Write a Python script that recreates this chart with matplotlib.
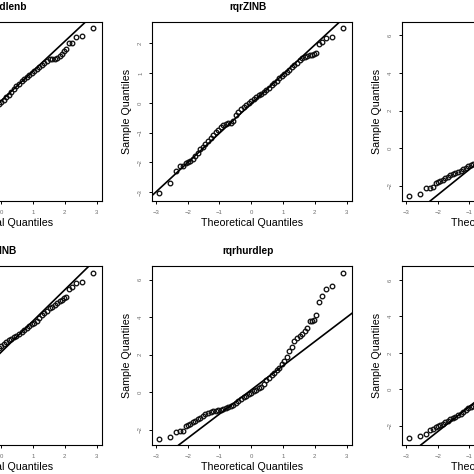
"""
Normal QQ plots of randomized quantile residuals (2 x 3 grid, cropped view).
"""

import matplotlib
matplotlib.use("Agg")
import matplotlib.pyplot as plt

# ---------------------------------------------------------
# Data
# ---------------------------------------------------------
theo = [-2.90, -2.54, -2.36, -2.23, -2.13, -2.05, -1.98, -1.91,
        -1.84, -1.76, -1.68, -1.60, -1.52, -1.44, -1.36, -1.28, -1.20, -1.12, -1.04, -0.96,
        -0.88, -0.80, -0.72, -0.64, -0.56, -0.48, -0.40, -0.32, -0.24, -0.16, -0.08,
        0.00, 0.08, 0.16, 0.24, 0.32, 0.40, 0.48, 0.56, 0.64, 0.72, 0.80, 0.88, 0.96,
        1.04, 1.12, 1.20, 1.28, 1.36, 1.44, 1.52, 1.60, 1.68, 1.76, 1.84,
        1.91, 1.98, 2.05, 2.13, 2.23, 2.36, 2.54, 2.90]

hurdlenb_top = [-2.95, -2.62, -2.40, -2.25, -2.15, -2.07, -2.00, -1.93,
                -1.86, -1.78, -1.70, -1.62, -1.54, -1.46, -1.37, -1.28, -1.19, -1.10, -1.01, -0.93,
                -0.85, -0.77, -0.69, -0.61, -0.53, -0.45, -0.37, -0.29, -0.21, -0.13, -0.05,
                0.02, 0.10, 0.19, 0.28, 0.36, 0.46, 0.56, 0.65, 0.74, 0.81, 0.88, 0.94, 1.00,
                1.07, 1.14, 1.21, 1.28, 1.35, 1.42, 1.48, 1.46, 1.48, 1.50, 1.58,
                1.66, 1.75, 1.82, 2.01, 2.01, 2.21, 2.26, 2.52]

zinb_top = [-3.04, -2.68, -2.28, -2.12, -2.11, -2.03, -1.99, -1.94,
            -1.88, -1.80, -1.68, -1.55, -1.47, -1.38, -1.27, -1.18, -1.07, -0.98, -0.90, -0.82,
            -0.76, -0.72, -0.69, -0.66, -0.60, -0.42, -0.32, -0.22, -0.14, -0.07, 0.01,
            0.07, 0.13, 0.19, 0.25, 0.31, 0.37, 0.44, 0.51, 0.59, 0.67, 0.75, 0.83, 0.90,
            0.97, 1.04, 1.12, 1.20, 1.28, 1.35, 1.45, 1.52, 1.55, 1.57, 1.60,
            1.62, 1.65, 1.69, 1.98, 2.05, 2.18, 2.20, 2.51]

zip_top = [-2.55, -2.43, -2.12, -2.10, -2.08, -1.85, -1.80, -1.74,
           -1.66, -1.59, -1.52, -1.44, -1.37, -1.31, -1.25, -1.19, -1.12, -1.04, -0.96, -0.88,
           -0.84, -0.80, -0.76, -0.71, -0.64, -0.55, -0.45, -0.35, -0.26, -0.17, -0.09,
           -0.02, 0.06, 0.14, 0.23, 0.34, 0.48, 0.63, 0.77, 0.91, 1.04, 1.18, 1.33, 1.50,
           1.67, 1.88, 2.15, 2.40, 2.70, 2.88, 3.00, 3.12, 3.28, 3.42, 3.75,
           3.82, 3.90, 4.10, 4.80, 5.10, 5.50, 5.65, 6.35]

zinb_bottom = [-3.00, -2.65, -2.35, -2.18, -2.10, -2.02, -1.96, -1.90,
               -1.83, -1.75, -1.66, -1.56, -1.47, -1.38, -1.28, -1.19, -1.09, -0.99, -0.90, -0.81,
               -0.73, -0.66, -0.59, -0.52, -0.45, -0.37, -0.30, -0.22, -0.15, -0.08, -0.02,
               0.04, 0.10, 0.17, 0.23, 0.28, 0.33, 0.38, 0.43, 0.49, 0.56, 0.63, 0.70, 0.76,
               0.81, 0.89, 0.97, 1.07, 1.14, 1.22, 1.30, 1.36, 1.42, 1.48, 1.55,
               1.59, 1.64, 1.68, 1.94, 2.02, 2.16, 2.19, 2.50]

hurdlep_bottom = [-2.50, -2.37, -2.10, -2.05, -2.05, -1.82, -1.75, -1.68,
                  -1.60, -1.52, -1.45, -1.36, -1.26, -1.18, -1.12, -1.08, -1.03, -0.99, -0.96, -0.93,
                  -0.89, -0.85, -0.81, -0.76, -0.70, -0.60, -0.48, -0.36, -0.26, -0.18, -0.11,
                  -0.04, 0.04, 0.12, 0.20, 0.30, 0.45, 0.63, 0.76, 0.90, 1.02, 1.16, 1.30, 1.50,
                  1.66, 1.90, 2.20, 2.42, 2.74, 2.90, 3.00, 3.12, 3.28, 3.40, 3.78,
                  3.82, 3.85, 4.10, 4.81, 5.12, 5.52, 5.67, 6.38]

zip_bottom = [-2.66, -2.57, -2.44, -2.22, -2.17, -2.08, -2.01, -1.94,
              -1.87, -1.79, -1.71, -1.63, -1.56, -1.49, -1.42, -1.33, -1.22, -1.12, -1.04, -0.96,
              -0.89, -0.82, -0.75, -0.67, -0.58, -0.48, -0.38, -0.28, -0.19, -0.10, -0.02,
              0.06, 0.14, 0.23, 0.33, 0.45, 0.58, 0.72, 0.86, 1.00, 1.15, 1.30, 1.47, 1.65,
              1.85, 2.08, 2.32, 2.55, 2.80, 3.00, 3.15, 3.30, 3.45, 3.60, 3.80,
              3.90, 4.05, 4.25, 4.60, 4.90, 5.30, 5.55, 6.20]

titles = ["rqrhurdlenb", "rqrZINB", "rqrZIP", "rqrZINB", "rqrhurdlep", "rqrZIP"]
samples = [hurdlenb_top, zinb_top, zip_top, zinb_bottom, hurdlep_bottom, zip_bottom]
# qqline: (slope, intercept)
qqlines = [(1.00, 0.07), (0.99, -0.03), (1.36, 0.24), (1.05, -0.17), (1.29, 0.12), (1.38, 0.45)]
ylims = [(-3.30, 2.72), (-3.30, 2.72), (-2.80, 6.71), (-3.30, 2.73), (-2.82, 6.73), (-3.04, 6.76)]
yticks = [[-3, -2, -1, 0, 1, 2]] * 2 + [[-2, 0, 2, 4, 6]] + [[-3, -2, -1, 0, 1, 2]] + [[-2, 0, 2, 4, 6]] * 2
xticks = [-3, -2, -1, 0, 1, 2, 3]

# ---------------------------------------------------------
# Figure (the picture is a crop: outer columns run off the canvas)
# ---------------------------------------------------------
plt.rcParams["font.family"] = ["Liberation Sans", "DejaVu Sans"]
fig = plt.figure(figsize=(4.74, 4.74), dpi=100, facecolor="white")

W, H = 474.0, 474.0
col_left = [-98, 152, 402]
row_top = [22, 266]
box_w, box_h = 200, 179
TICK_GREY = "#6e6e6e"

for k in range(6):
    r, c = divmod(k, 3)
    left = col_left[c] / W
    bottom = 1 - (row_top[r] + box_h) / H
    ax = fig.add_axes([left, bottom, box_w / W, box_h / H])

    ax.plot(theo, samples[k], linestyle="none", marker="o", markersize=3.3,
            markerfacecolor="none", markeredgecolor="#111111", markeredgewidth=0.95)
    slope, icpt = qqlines[k]
    ax.axline((0, icpt), slope=slope, color="black", linewidth=1.2)

    ax.set_xlim(-3.12, 3.17)
    ax.set_ylim(*ylims[k])
    ax.set_xticks(xticks)
    ax.set_yticks(yticks[k])
    ax.tick_params(axis="both", length=2.4, width=0.7, color="black",
                   labelsize=4.3, labelcolor=TICK_GREY, pad=4)
    for lab in ax.get_yticklabels():
        lab.set_rotation(90)
        lab.set_va("center")
    for sp in ax.spines.values():
        sp.set_linewidth(0.8)

    ax.set_title(titles[k], fontsize=7.3, fontweight="bold", x=0.48, y=1.084,
                 va="center", pad=0)
    ax.set_xlabel("Theoretical Quantiles", fontsize=7.7, va="center")
    ax.xaxis.set_label_coords(0.5, -0.123)
    ax.set_ylabel("Sample Quantiles", fontsize=7.7, va="center")
    ax.yaxis.set_label_coords(-0.125, 0.5)

fig.savefig("out.png", dpi=100, facecolor="white")
